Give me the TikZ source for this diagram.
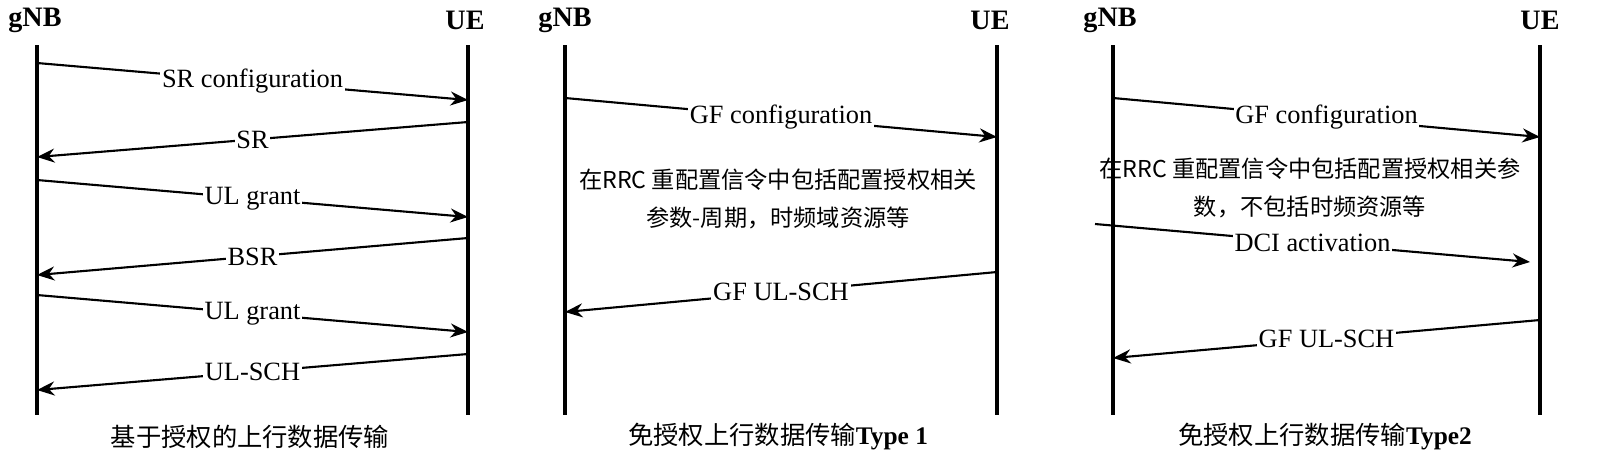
\documentclass[tikz,border=0pt]{standalone}
\usepackage{fontspec}
\setmainfont{Liberation Serif}
\newfontfamily\cjk{Noto Sans CJK SC}
\usetikzlibrary{arrows.meta}
\begin{document}
\begin{tikzpicture}[x=0.01cm,y=-0.01cm,
  life/.style={line width=1.1pt},
  msg/.style={line width=0.6pt,-{Stealth[length=5pt,width=4pt]}},
  lbl/.style={fill=white,inner sep=0.5pt,font=\fontsize{7.5}{8}\selectfont},
  hd/.style={font=\fontsize{8}{9}\selectfont\bfseries},
  txt/.style={font=\fontsize{6.6}{11}\selectfont\cjk,align=center},
  captext/.style={font=\fontsize{7.2}{9}\selectfont\cjk}]
\useasboundingbox (0,0) rectangle (1613,469);
% headings
\node[hd] (h1) at (35,20) {gNB}; \node[hd] (h2) at (465,20) {UE};
\node[hd] (h3) at (565,20) {gNB}; \node[hd] (h4) at (990,20) {UE};
\node[hd] (h5) at (1110,20) {gNB}; \node[hd] (h6) at (1540,20) {UE};
% lifelines
\foreach \n/\x in {a/37,b/468,c/565,d/997,e/1113,f/1540}{
  \coordinate (\n t) at (\x,45); \coordinate (\n b) at (\x,415);
  \draw[life] (\n t) -- (\n b);}
% panel 1: (gNB y, UE y)
\foreach \i/\ya/\yb in {1/63/100,2/157/122,3/180/217,4/275/238,5/295/332,6/390/354}{
  \coordinate (p\i a) at (37,\ya); \coordinate (p\i b) at (468,\yb);
}
\draw[msg] (p1a) -- node[lbl]{SR configuration} (p1b);
\draw[msg] (p2b) -- node[lbl]{SR} (p2a);
\draw[msg] (p3a) -- node[lbl]{UL grant} (p3b);
\draw[msg] (p4b) -- node[lbl]{BSR} (p4a);
\draw[msg] (p5a) -- node[lbl]{UL grant} (p5b);
\draw[msg] (p6b) -- node[lbl]{UL-SCH} (p6a);
\node[captext] (c1) at (250,437) {基于授权的上行数据传输};
% panel 2
\coordinate (q1a) at (565,98); \coordinate (q1b) at (997,137);
\coordinate (q2a) at (565,312); \coordinate (q2b) at (997,272);
\draw[msg] (q1a) -- node[lbl]{GF configuration} (q1b);
\draw[msg] (q2b) -- node[lbl]{GF UL-SCH} (q2a);
\node[txt] (t2) at (778,199) {在RRC 重配置信令中包括配置授权相关\\参数-周期，时频域资源等};
\node[captext] (c2) at (778,437) {免授权上行数据传输{\rmfamily\bfseries Type 1}};
% panel 3
\coordinate (r1a) at (1113,98); \coordinate (r1b) at (1540,137);
\coordinate (r2a) at (1095,224); \coordinate (r2b) at (1530,262);
\coordinate (r3a) at (1113,358); \coordinate (r3b) at (1540,320);
\draw[msg] (r1a) -- node[lbl]{GF configuration} (r1b);
\draw[msg] (r2a) -- node[lbl]{DCI activation} (r2b);
\draw[msg] (r3b) -- node[lbl]{GF UL-SCH} (r3a);
\node[txt] (t3) at (1310,188) {在RRC 重配置信令中包括配置授权相关参\\数，不包括时频资源等};
\node[captext] (c3) at (1325,437) {免授权上行数据传输{\rmfamily\bfseries Type2}};
\end{tikzpicture}
\end{document}
